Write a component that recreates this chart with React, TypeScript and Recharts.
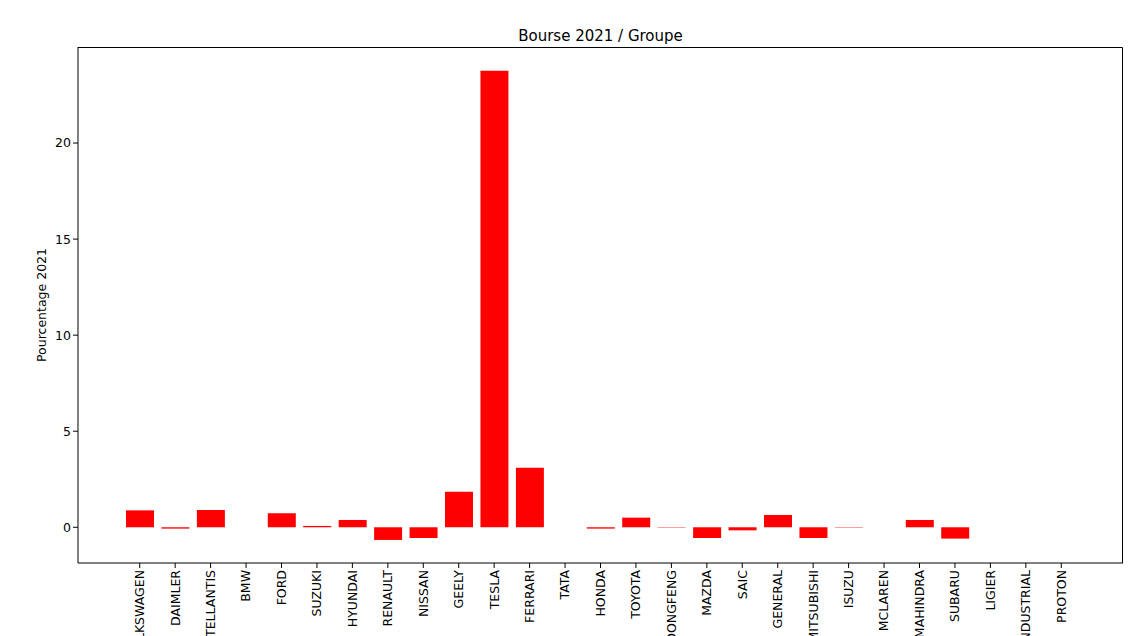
import React from "react";
import { Bar, BarChart, XAxis, YAxis } from "recharts";

const groupes = [
  "VOLKSWAGEN", "DAIMLER", "STELLANTIS", "BMW", "FORD", "SUZUKI", "HYUNDAI",
  "RENAULT", "NISSAN", "GEELY", "TESLA", "FERRARI", "TATA", "HONDA", "TOYOTA",
  "DONGFENG", "MAZDA", "SAIC", "GENERAL", "MITSUBISHI", "ISUZU", "MCLAREN",
  "MAHINDRA", "SUBARU", "LIGIER", "INDUSTRIAL", "PROTON",
];

const pourcentages = [
  0.88, -0.07, 0.9, 0, 0.73, 0.07, 0.38,
  -0.66, -0.56, 1.85, 23.77, 3.1, 0, -0.07, 0.5,
  -0.02, -0.56, -0.16, 0.64, -0.56, -0.02, 0,
  0.38, -0.59, 0, 0, 0,
];

const yTicks = [0, 5, 10, 15, 20];

const data = groupes.map((g, i) => ({ groupe: g, valeur: pourcentages[i] }));

const FONT = "'DejaVu Sans', sans-serif";

function RotatedTick({ x, y, payload }: any) {
  return (
    <g transform={`translate(${x},${y})`}>
      <text
        transform="rotate(-90)"
        textAnchor="end"
        dy="0.35em"
        fontSize={12.5}
        fontFamily={FONT}
        fill="#000"
      >
        {payload.value}
      </text>
    </g>
  );
}

export default function App() {
  return (
    <div
      style={{
        position: "absolute",
        left: 0,
        top: 0,
        width: 1132,
        height: 636,
        overflow: "hidden",
        background: "#fff",
        fontFamily: FONT,
      }}
    >
      <div
        style={{
          position: "absolute",
          left: 0,
          width: 1201,
          top: 27,
          textAlign: "center",
          fontSize: 15,
          color: "#000",
        }}
      >
        Bourse 2021 / Groupe
      </div>
      <BarChart
        width={1132}
        height={720}
        data={data}
        margin={{ top: 47, right: 9, left: 18, bottom: 37 }}
        barCategoryGap={0}
      >
        <XAxis
          dataKey="groupe"
          interval={0}
          height={120}
          padding={{ left: 44, right: 44 }}
          tick={<RotatedTick />}
          tickSize={5}
          tickLine={{ stroke: "#000" }}
          axisLine={{ stroke: "#000" }}
        />
        <YAxis
          domain={[-1.86, 25]}
          ticks={yTicks}
          width={60}
          tickSize={5}
          tickLine={{ stroke: "#000" }}
          axisLine={{ stroke: "#000" }}
          tick={{ fill: "#000", fontSize: 12.5, fontFamily: FONT }}
          allowDataOverflow
          label={{
            content: () => (
              <text
                x={41}
                y={305}
                transform="rotate(-90 41 305)"
                textAnchor="middle"
                dominantBaseline="central"
                fontSize={12.5}
                fontFamily={FONT}
                fill="#000"
              >
                Pourcentage 2021
              </text>
            ),
          }}
        />
        <Bar dataKey="valeur" fill="#ff0000" barSize={28} isAnimationActive={false} />
      </BarChart>
      {/* top and right edges of the frame */}
      <svg
        width={1132}
        height={636}
        style={{ position: "absolute", left: 0, top: 0, pointerEvents: "none" }}
      >
        <path d="M78 47.5 H1122.5 V563" stroke="#000" fill="none" strokeWidth={1} />
      </svg>
    </div>
  );
}
